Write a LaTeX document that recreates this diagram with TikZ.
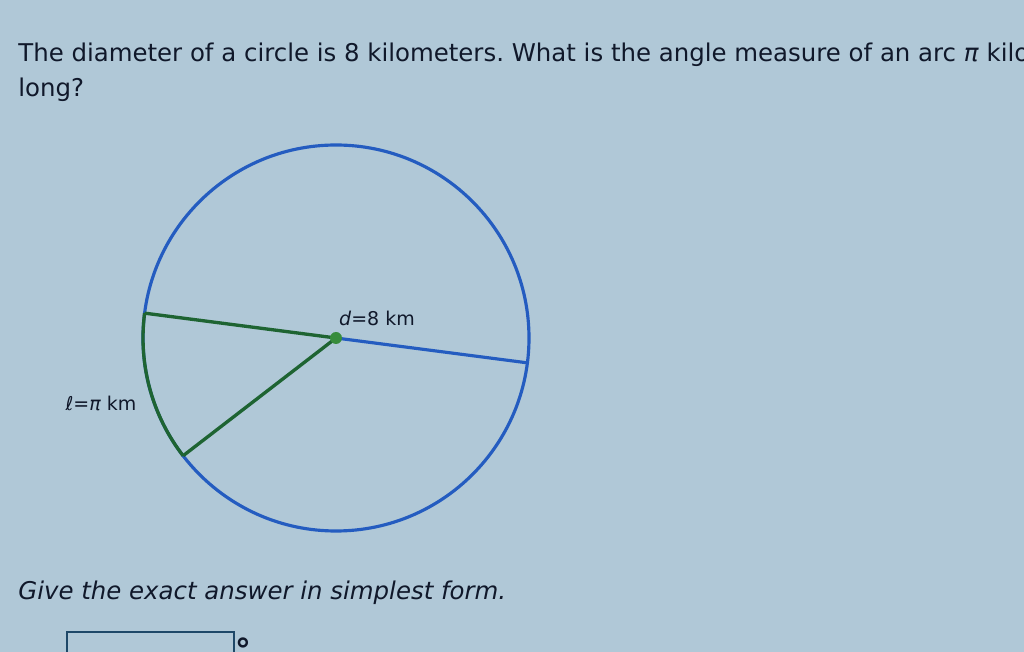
\documentclass[tikz,border=0pt]{standalone}
\usepackage{fontspec}
\setmainfont{DejaVu Sans}
\frenchspacing
\definecolor{screen}{RGB}{176,200,215}
\definecolor{ink}{RGB}{16,24,42}
\definecolor{circblue}{RGB}{36,92,192}
\definecolor{arcgreen}{RGB}{30,100,50}
\definecolor{dotgreen}{RGB}{56,140,60}
\definecolor{boxline}{RGB}{30,72,104}

\begin{document}
\begin{tikzpicture}[bluestroke/.style={draw=circblue,line width=1.8pt},
	greenstroke/.style={draw=arcgreen,line width=1.9pt},
	question/.style={text=ink,inner sep=0pt,anchor=base west,font=\fontsize{13.9pt}{16pt}\selectfont},
	measure/.style={text=ink,inner sep=0pt,font=\fontsize{10.8pt}{13pt}\selectfont}]
				\useasboundingbox (0,0) rectangle (20.48,13.04);
				\clip (0,0) rectangle (20.48,13.04);
				\fill[screen] (0,0) rectangle (20.48,13.04);
				\node[question] (line1) at (0.36,11.8) {The diameter of a circle is 8 kilometers. What is the angle measure of an arc \textit{π} kilometers};
				\node[question] (line2) at (0.36,11.1) {long?};
				\coordinate (O) at (6.72,6.28);
				\coordinate (A) at ([shift={(172.6:3.86)}]O);
				\coordinate (B) at ([shift={(-7.4:3.86)}]O);
				\coordinate (C) at ([shift={(217.6:3.86)}]O);
				\draw[bluestroke] (O) circle [radius=3.86cm];
				\draw[bluestroke] (O) -- (B);
				\draw[greenstroke] (A) arc [start angle=172.6, end angle=217.6, radius=3.86cm];
				\draw[greenstroke,line join=round] (A) -- (O) -- (C);
				\fill[dotgreen] (O) circle [radius=0.12];
				\node[measure] (dlabel) at (7.54,6.68) {\textit{d}=8 km};
				\node[measure] (llabel) at (2.02,4.98) {\textit{ℓ}=\textit{π} km};
				\node[question] (hint) at (0.36,1.04) {\textit{Give the exact answer in simplest form.}};
				\draw[boxline,line width=0.8pt] (1.34,-0.3) rectangle (4.68,0.4) node (answer) {};
				\node[question,anchor=north,font=\fontsize{18pt}{20pt}\bfseries\selectfont] (degree) at (4.86,0.3) {°};
\end{tikzpicture}
\end{document}
